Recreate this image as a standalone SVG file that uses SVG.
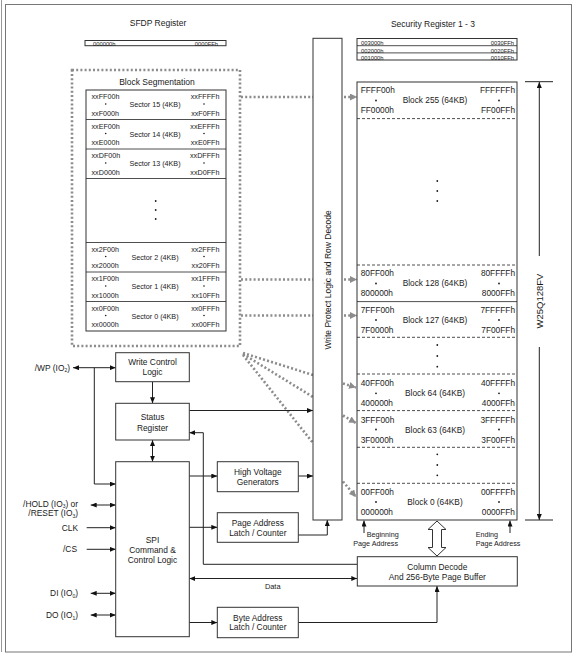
<svg xmlns="http://www.w3.org/2000/svg" width="576" height="656" viewBox="0 0 576 656">
<defs>
<style>
.t{font-family:"Liberation Sans",Arial,sans-serif;fill:#1a1a1a}
.s{font-size:7.2px}
.b{font-size:8.3px}
.l{font-size:8.4px}
.m{font-size:7.2px}
.tiny{font-size:5.8px}
.box{fill:#fff;stroke:#333;stroke-width:1}
.ln{stroke:#222;stroke-width:1;fill:none}
.dot{stroke:#8c8c8c;stroke-width:2.6;stroke-dasharray:2 2.2;fill:none}
.dash{stroke:#222;stroke-width:0.8;stroke-dasharray:3 2;fill:none}
.sep{stroke:#222;stroke-width:0.8;fill:none}
.dt{fill:#1a1a1a}
</style>
<marker id="a" markerUnits="userSpaceOnUse" markerWidth="6" markerHeight="5" refX="6" refY="2.5" orient="auto-start-reverse"><path d="M0,0 L6,2.5 L0,5 z" fill="#111"/></marker>
<marker id="g" markerUnits="userSpaceOnUse" markerWidth="7" markerHeight="7" refX="7" refY="3.5" orient="auto"><path d="M0,0 L7,3.5 L0,7 z" fill="#8c8c8c"/></marker>
</defs>
<rect width="576" height="656" fill="#fff"/>
<rect x="5.5" y="4.5" width="566" height="647.5" fill="none" stroke="#777" stroke-width="1"/>
<line x1="1.5" y1="0" x2="1.5" y2="652" stroke="#999" stroke-width="1"/>

<g id="connectors">
<line class="dot" x1="241" y1="97" x2="313" y2="97"/>
<line class="dot" x1="241" y1="279.5" x2="313" y2="279.5"/>
<line class="dot" x1="241" y1="315.5" x2="313" y2="315.5"/>
<line class="dot" x1="344" y1="97" x2="357" y2="97" marker-end="url(#g)"/>
<line class="dot" x1="344" y1="279.5" x2="357" y2="279.5" marker-end="url(#g)"/>
<line class="dot" x1="344" y1="315.5" x2="357" y2="315.5" marker-end="url(#g)"/>
<line class="dot" x1="243" y1="353" x2="313" y2="375"/>
<line class="dot" x1="243" y1="354" x2="313" y2="397"/>
<line class="dot" x1="243" y1="355" x2="313" y2="443"/>
<line class="dot" x1="343" y1="383.5" x2="356" y2="387.5" marker-end="url(#g)"/>
<line class="dot" x1="343" y1="415.5" x2="356" y2="423" marker-end="url(#g)"/>
<line class="dot" x1="343" y1="481.5" x2="356" y2="497" marker-end="url(#g)"/>
<line class="ln" x1="73" y1="367.7" x2="115.7" y2="367.7" marker-start="url(#a)" marker-end="url(#a)"/>
<path class="ln" d="M94.3,367.7 V484 H115.7" marker-end="url(#a)"/>
<line class="ln" x1="90.7" y1="505" x2="115.7" y2="505" marker-start="url(#a)" marker-end="url(#a)"/>
<line class="ln" x1="86.7" y1="527.7" x2="115.7" y2="527.7" marker-end="url(#a)"/>
<line class="ln" x1="86.7" y1="549.3" x2="115.7" y2="549.3" marker-end="url(#a)"/>
<line class="ln" x1="90.7" y1="593.3" x2="115.7" y2="593.3" marker-start="url(#a)" marker-end="url(#a)"/>
<line class="ln" x1="90.7" y1="615" x2="115.7" y2="615" marker-start="url(#a)" marker-end="url(#a)"/>
<line class="ln" x1="152.5" y1="381.7" x2="152.5" y2="403.3" marker-end="url(#a)"/>
<line class="ln" x1="152.5" y1="440" x2="152.5" y2="461.7" marker-start="url(#a)" marker-end="url(#a)"/>
<line class="ln" x1="189.3" y1="410.5" x2="313" y2="410.5" marker-end="url(#a)"/>
<line class="ln" x1="189.3" y1="476" x2="217.3" y2="476" marker-end="url(#a)"/>
<line class="ln" x1="298.3" y1="476" x2="313" y2="476" marker-end="url(#a)"/>
<line class="ln" x1="189.3" y1="527.3" x2="217.3" y2="527.3" marker-end="url(#a)"/>
<path class="ln" d="M298.3,535 H327.3 V520" marker-end="url(#a)"/>
<line class="ln" x1="189.3" y1="622.5" x2="217.3" y2="622.5" marker-end="url(#a)"/>
<path class="ln" d="M298.3,622.5 H437 V586" marker-end="url(#a)"/>
<path class="ln" d="M357.3,564.3 H203.3 V432.7 H189.3" marker-end="url(#a)"/>
<line class="ln" x1="189.3" y1="578.5" x2="357.3" y2="578.5" marker-start="url(#a)" marker-end="url(#a)"/>
<line class="ln" x1="364" y1="533" x2="364" y2="520.5" marker-end="url(#a)"/>
<line class="ln" x1="510" y1="533" x2="510" y2="520.5" marker-end="url(#a)"/>
<polygon points="437,521 446,529.5 441.5,529.5 441.5,547.5 446,547.5 437,556 428,547.5 432.5,547.5 432.5,529.5 428,529.5" fill="#fff" stroke="#333" stroke-width="1"/>
<line class="ln" x1="525" y1="81.7" x2="553" y2="81.7"/>
<line class="ln" x1="525" y1="520" x2="553" y2="520"/>
<line class="ln" x1="539.3" y1="256" x2="539.3" y2="82" marker-end="url(#a)"/>
<line class="ln" x1="539.3" y1="347" x2="539.3" y2="520" marker-end="url(#a)"/>
</g>

<text class="t" x="539.3" y="301" font-size="9.5" text-anchor="middle" transform="rotate(-90 539.3 301) translate(0 3.4)">W25Q128FV</text>
<text class="t" x="158" y="26" font-size="8.5" text-anchor="middle">SFDP Register</text>
<text class="t" x="433" y="27" font-size="8.5" text-anchor="middle">Security Register 1 - 3</text>

<g id="sfdp">
<rect class="box" x="85" y="40.5" width="141" height="5.2"/>
<text class="t tiny" x="93" y="46">000000h</text>
<text class="t tiny" x="218" y="46" text-anchor="end">0000FFh</text>
</g>

<g id="security">
<rect class="box" x="357" y="38.5" width="160" height="21.5"/>
<line class="sep" x1="357" y1="45.7" x2="517" y2="45.7"/>
<line class="sep" x1="357" y1="52.9" x2="517" y2="52.9"/>
<text class="t tiny" x="361" y="45.3">003000h</text>
<text class="t tiny" x="514" y="45.3" text-anchor="end">0030FFh</text>
<text class="t tiny" x="361" y="52.5">002000h</text>
<text class="t tiny" x="514" y="52.5" text-anchor="end">0020FFh</text>
<text class="t tiny" x="361" y="59.7">001000h</text>
<text class="t tiny" x="514" y="59.7" text-anchor="end">0010FFh</text>
</g>

<g id="block-segmentation">
<rect class="dot" x="72" y="70" width="168" height="276"/>
<text class="t" x="157" y="85" font-size="8.5" text-anchor="middle">Block Segmentation</text>
<rect class="box" x="86" y="90" width="140" height="241"/>
<line class="sep" x1="86" y1="119.5" x2="226" y2="119.5"/>
<line class="sep" x1="86" y1="149" x2="226" y2="149"/>
<line class="sep" x1="86" y1="178.5" x2="226" y2="178.5"/>
<line class="sep" x1="86" y1="242.5" x2="226" y2="242.5"/>
<line class="sep" x1="86" y1="272" x2="226" y2="272"/>
<line class="sep" x1="86" y1="301.5" x2="226" y2="301.5"/>
<g class="t s">
<text x="91.5" y="99.2">xxFF00h</text><text x="91.5" y="115.6">xxF000h</text><text x="219.5" y="99.2" text-anchor="end">xxFFFFh</text><text x="219.5" y="115.6" text-anchor="end">xxF0FFh</text><text x="155" y="107.2" text-anchor="middle">Sector 15 (4KB)</text>
<text x="91.5" y="128.7">xxEF00h</text><text x="91.5" y="145.1">xxE000h</text><text x="219.5" y="128.7" text-anchor="end">xxEFFFh</text><text x="219.5" y="145.1" text-anchor="end">xxE0FFh</text><text x="155" y="136.7" text-anchor="middle">Sector 14 (4KB)</text>
<text x="91.5" y="158.2">xxDF00h</text><text x="91.5" y="174.6">xxD000h</text><text x="219.5" y="158.2" text-anchor="end">xxDFFFh</text><text x="219.5" y="174.6" text-anchor="end">xxD0FFh</text><text x="155" y="166.2" text-anchor="middle">Sector 13 (4KB)</text>
<text x="91.5" y="251.7">xx2F00h</text><text x="91.5" y="268.1">xx2000h</text><text x="219.5" y="251.7" text-anchor="end">xx2FFFh</text><text x="219.5" y="268.1" text-anchor="end">xx20FFh</text><text x="155" y="259.7" text-anchor="middle">Sector 2 (4KB)</text>
<text x="91.5" y="281.2">xx1F00h</text><text x="91.5" y="297.6">xx1000h</text><text x="219.5" y="281.2" text-anchor="end">xx1FFFh</text><text x="219.5" y="297.6" text-anchor="end">xx10FFh</text><text x="155" y="289.2" text-anchor="middle">Sector 1 (4KB)</text>
<text x="91.5" y="310.7">xx0F00h</text><text x="91.5" y="327.1">xx0000h</text><text x="219.5" y="310.7" text-anchor="end">xx0FFFh</text><text x="219.5" y="327.1" text-anchor="end">xx00FFh</text><text x="155" y="318.7" text-anchor="middle">Sector 0 (4KB)</text>
</g>
<g class="dt">
<circle cx="105.7" cy="104" r="0.8"/><circle cx="204" cy="104" r="0.8"/>
<circle cx="105.7" cy="133.5" r="0.8"/><circle cx="204" cy="133.5" r="0.8"/>
<circle cx="105.7" cy="163" r="0.8"/><circle cx="204" cy="163" r="0.8"/>
<circle cx="105.7" cy="256.5" r="0.8"/><circle cx="204" cy="256.5" r="0.8"/>
<circle cx="105.7" cy="286" r="0.8"/><circle cx="204" cy="286" r="0.8"/>
<circle cx="105.7" cy="315.5" r="0.8"/><circle cx="204" cy="315.5" r="0.8"/>
<circle cx="155.7" cy="201" r="0.9"/><circle cx="155.7" cy="210" r="0.9"/><circle cx="155.7" cy="219" r="0.9"/>
</g>
</g>

<g id="write-protect">
<rect class="box" x="313" y="38.3" width="29" height="481.7"/>
<text class="t" x="327.5" y="280" font-size="8.5" text-anchor="middle" transform="rotate(-90 327.5 280) translate(0 3)">Write Protect Logic and Row Decode</text>
</g>

<g id="memory-array">
<rect class="box" x="357" y="82" width="160" height="438"/>
<line class="dash" x1="357" y1="118.6" x2="517" y2="118.6"/>
<line class="dash" x1="357" y1="265" x2="517" y2="265"/>
<line class="sep" x1="357" y1="301.6" x2="517" y2="301.6"/>
<line class="dash" x1="357" y1="337.3" x2="517" y2="337.3"/>
<line class="dash" x1="357" y1="374" x2="517" y2="374"/>
<line class="dash" x1="357" y1="410.6" x2="517" y2="410.6"/>
<line class="dash" x1="357" y1="447.3" x2="517" y2="447.3"/>
<line class="dash" x1="357" y1="483.3" x2="517" y2="483.3"/>
<g class="t b">
<text x="360.7" y="93">FFFF00h</text><text x="360.7" y="113">FF0000h</text><text x="515" y="93" text-anchor="end">FFFFFFh</text><text x="515" y="113" text-anchor="end">FF00FFh</text><text x="435" y="103.3" text-anchor="middle">Block 255 (64KB)</text>
<text x="360.7" y="276">80FF00h</text><text x="360.7" y="296">800000h</text><text x="515" y="276" text-anchor="end">80FFFFh</text><text x="515" y="296" text-anchor="end">8000FFh</text><text x="435" y="286.3" text-anchor="middle">Block 128 (64KB)</text>
<text x="360.7" y="312.6">7FFF00h</text><text x="360.7" y="332.6">7F0000h</text><text x="515" y="312.6" text-anchor="end">7FFFFFh</text><text x="515" y="332.6" text-anchor="end">7F00FFh</text><text x="435" y="322.9" text-anchor="middle">Block 127 (64KB)</text>
<text x="360.7" y="386">40FF00h</text><text x="360.7" y="406">400000h</text><text x="515" y="386" text-anchor="end">40FFFFh</text><text x="515" y="406" text-anchor="end">4000FFh</text><text x="435" y="396.3" text-anchor="middle">Block 64 (64KB)</text>
<text x="360.7" y="422.6">3FFF00h</text><text x="360.7" y="442.6">3F0000h</text><text x="515" y="422.6" text-anchor="end">3FFFFFh</text><text x="515" y="442.6" text-anchor="end">3F00FFh</text><text x="435" y="432.9" text-anchor="middle">Block 63 (64KB)</text>
<text x="360.7" y="494.5">00FF00h</text><text x="360.7" y="514.5">000000h</text><text x="515" y="494.5" text-anchor="end">00FFFFh</text><text x="515" y="514.5" text-anchor="end">0000FFh</text><text x="435" y="504.8" text-anchor="middle">Block 0 (64KB)</text>
</g>
<g class="dt">
<circle cx="376" cy="100.5" r="0.9"/><circle cx="499" cy="100.5" r="0.9"/>
<circle cx="376" cy="283.5" r="0.9"/><circle cx="499" cy="283.5" r="0.9"/>
<circle cx="376" cy="320" r="0.9"/><circle cx="499" cy="320" r="0.9"/>
<circle cx="376" cy="393.3" r="0.9"/><circle cx="499" cy="393.3" r="0.9"/>
<circle cx="376" cy="429.5" r="0.9"/><circle cx="499" cy="429.5" r="0.9"/>
<circle cx="376" cy="502" r="0.9"/><circle cx="499" cy="502" r="0.9"/>
<circle cx="437.3" cy="181" r="0.9"/><circle cx="437.3" cy="191" r="0.9"/><circle cx="437.3" cy="201" r="0.9"/>
<circle cx="437.3" cy="345" r="0.9"/><circle cx="437.3" cy="356" r="0.9"/><circle cx="437.3" cy="366.7" r="0.9"/>
<circle cx="437.3" cy="454.3" r="0.9"/><circle cx="437.3" cy="465" r="0.9"/><circle cx="437.3" cy="475.3" r="0.9"/>
</g>
</g>

<g id="page-address-labels" class="t m">
<text x="366.7" y="536.8">Beginning</text>
<text x="353.3" y="545.8">Page Address</text>
<text x="475.7" y="536.8">Ending</text>
<text x="475.7" y="545.8">Page Address</text>
</g>

<g id="pins" class="t l" text-anchor="end">
<text x="70" y="370.7">/WP (IO<tspan font-size="5" dy="1.5">2</tspan><tspan dy="-1.5">)</tspan></text>
<text x="78" y="506.8">/HOLD (IO<tspan font-size="5" dy="1.2">3</tspan><tspan dy="-1.2">) or</tspan></text>
<text x="78" y="516.3">/RESET (IO<tspan font-size="5" dy="1.2">3</tspan><tspan dy="-1.2">)</tspan></text>
<text x="78" y="530.7">CLK</text>
<text x="77" y="552.3">/CS</text>
<text x="78" y="596.3">DI (IO<tspan font-size="5" dy="1.5">0</tspan><tspan dy="-1.5">)</tspan></text>
<text x="78" y="618">DO (IO<tspan font-size="5" dy="1.5">1</tspan><tspan dy="-1.5">)</tspan></text>
</g>

<g id="write-control">
<rect class="box" x="115.7" y="352.7" width="73.6" height="29"/>
<text class="t l" x="152.5" y="365.3" text-anchor="middle">Write Control</text>
<text class="t l" x="152.5" y="375.3" text-anchor="middle">Logic</text>
</g>
<g id="status-register">
<rect class="box" x="115.7" y="403.3" width="73.6" height="36.7"/>
<text class="t l" x="152.5" y="420.3" text-anchor="middle">Status</text>
<text class="t l" x="152.5" y="430.7" text-anchor="middle">Register</text>
</g>
<g id="spi">
<rect class="box" x="115.7" y="461.7" width="73.6" height="175"/>
<text class="t l" x="152.5" y="543" text-anchor="middle">SPI</text>
<text class="t l" x="152.5" y="553" text-anchor="middle">Command &amp;</text>
<text class="t l" x="152.5" y="563" text-anchor="middle">Control Logic</text>
</g>
<g id="high-voltage">
<rect class="box" x="217.3" y="461.7" width="81" height="30"/>
<text class="t l" x="257.8" y="475.3" text-anchor="middle">High Voltage</text>
<text class="t l" x="257.8" y="485" text-anchor="middle">Generators</text>
</g>
<g id="page-address">
<rect class="box" x="217.3" y="512.7" width="81" height="29.6"/>
<text class="t l" x="257.8" y="525.7" text-anchor="middle">Page Address</text>
<text class="t l" x="257.8" y="535.7" text-anchor="middle">Latch / Counter</text>
</g>
<g id="byte-address">
<rect class="box" x="217.3" y="607.3" width="81" height="30.4"/>
<text class="t l" x="257.8" y="620.7" text-anchor="middle">Byte Address</text>
<text class="t l" x="257.8" y="630.3" text-anchor="middle">Latch / Counter</text>
</g>
<g id="column-decode">
<rect class="box" x="357.3" y="556.7" width="160" height="29.3"/>
<text class="t l" x="437.3" y="569.7" text-anchor="middle">Column Decode</text>
<text class="t l" x="437.3" y="579.7" text-anchor="middle">And 256-Byte Page Buffer</text>
</g>
<text class="t" x="272.7" y="588.6" font-size="7.4" text-anchor="middle">Data</text>
</svg>
